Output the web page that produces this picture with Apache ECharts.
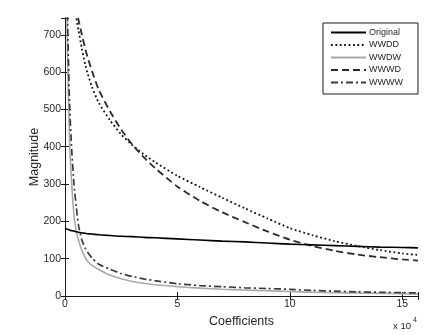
<!DOCTYPE html>
<html><head><meta charset="utf-8">
<script src="https://cdn.jsdelivr.net/npm/echarts@6/dist/echarts.min.js"></script>
<style>html,body{margin:0;padding:0;background:#fff}#c{width:438px;height:335px}</style>
</head><body><div id="c"></div>
<script>
// x positions in units of 10^4 coefficients
const coeffs   = [0, 0.1, 0.2, 0.3, 0.4, 0.5, 0.6, 0.75, 0.9, 1.0, 1.2, 1.5, 2.0, 2.5, 3.0, 3.5, 4, 5, 6, 7, 8, 9, 10, 11, 12, 13, 14, 15, 15.7];
const original = [181, 179, 177, 175, 174, 172, 171, 169, 168, 167, 166, 164, 162, 160, 159, 157, 156, 153, 150, 147, 145, 142, 139, 137, 135, 133, 131, 130, 129];
const wwdd     = [null, null, null, null, 790, 745, 712, 663, 620, 598, 560, 518, 471, 433, 404, 380, 359, 322, 292, 263, 235, 208, 182, 163, 147, 134, 123, 114, 110];
const wwdw     = [1500, 690, 420, 300, 215, 175, 150, 122, 103, 94, 82, 71, 56, 46, 39, 34, 30, 25, 21, 18, 16, 14, 12, 10, 9, 8, 7, 6, 5];
const wwwd     = [null, null, null, null, null, 775, 740, 700, 663, 641, 603, 553, 495, 446, 405, 372, 343, 293, 255, 224, 198, 173, 151, 134, 121, 111, 104, 98, 95];
const wwww     = [1600, 790, 520, 390, 300, 240, 190, 150, 128, 118, 102, 85, 72, 60, 52, 46, 41, 33, 28, 25, 22, 20, 18, 15, 13, 11, 10, 9, 8];
const xTicks = [0, 5, 10, 15];
const yTicks = [0, 100, 200, 300, 400, 500, 600, 700];
const seriesNames = ['Original', 'WWDD', 'WWDW', 'WWWD', 'WWWW'];

const FONT = 'Liberation Sans, Arial, sans-serif';
const TXT = '#262626';
const AX = '#1a1a1a';
const pairs = ys => coeffs.map((x, i) => [x, ys[i]]);

const chart = echarts.init(document.getElementById('c'), null, {renderer: 'canvas'});
const baseX = {
  type: 'value', min: 0, max: 15.7, interval: 5,
  axisLine: {show: true, lineStyle: {color: AX, width: 1}},
  axisTick: {show: true, inside: true, length: 4, lineStyle: {color: AX}},
  splitLine: {show: false}
};
const baseY = {
  type: 'value', min: 0, max: 745, interval: 100,
  axisLine: {show: true, lineStyle: {color: AX, width: 1}},
  axisTick: {show: true, inside: true, length: 4, lineStyle: {color: AX}},
  splitLine: {show: false}
};
const common = {type: 'line', showSymbol: false, symbol: 'none', smooth: 0.2, clip: true, xAxisIndex: 0, yAxisIndex: 0};
chart.setOption({
  animation: false,
  backgroundColor: '#fff',
  grid: {left: 65, right: 20, top: 18, bottom: 39},
  xAxis: [
    Object.assign({}, baseX, {
      position: 'bottom',
      name: 'Coefficients', nameLocation: 'middle', nameGap: 19, nameMoveOverlap: false,
      nameTextStyle: {fontFamily: FONT, fontSize: 12.5, color: TXT},
      axisLabel: {margin: 3, fontFamily: FONT, fontSize: 10.5, color: TXT,
        formatter: v => xTicks.includes(v) ? String(v) : ''}
    }),
    Object.assign({}, baseX, {position: 'top', axisLabel: {show: false}})
  ],
  yAxis: [
    Object.assign({}, baseY, {
      position: 'left',
      name: 'Magnitude', nameLocation: 'middle', nameGap: 24, nameRotate: 90, nameMoveOverlap: false,
      nameTextStyle: {fontFamily: FONT, fontSize: 12.5, color: TXT},
      axisLabel: {margin: 4, fontFamily: FONT, fontSize: 10.5, color: TXT,
        formatter: v => yTicks.includes(v) ? String(v) : ''}
    }),
    Object.assign({}, baseY, {position: 'right', axisLabel: {show: false}})
  ],
  legend: {
    orient: 'vertical', left: 323, top: 23,
    data: seriesNames,
    backgroundColor: '#fff', borderColor: AX, borderWidth: 1,
    padding: [5, 15, 7, 7],
    itemWidth: 35, itemHeight: 10, itemGap: 3.5,
    itemStyle: {opacity: 0, borderWidth: 0},
    textStyle: {fontFamily: FONT, fontSize: 9, color: TXT, padding: [0, 0, 0, -2]}
  },
  graphic: [
    {type: 'text', left: 393, top: 321, style: {text: 'x 10', font: '9.5px ' + FONT, fill: TXT}},
    {type: 'text', left: 413, top: 317, style: {text: '4', font: '7px ' + FONT, fill: TXT}}
  ],
  series: [
    Object.assign({}, common, {name: seriesNames[0], data: pairs(original), z: 5,
      lineStyle: {color: '#000', width: 1.6, type: 'solid'}, itemStyle: {color: '#000'}}),
    Object.assign({}, common, {name: seriesNames[1], data: pairs(wwdd),
      lineStyle: {color: '#111', width: 1.8, type: [1.8, 2.6]}, itemStyle: {color: '#111'}}),
    Object.assign({}, common, {name: seriesNames[2], data: pairs(wwdw),
      lineStyle: {color: '#a8a8a8', width: 1.6, type: 'solid'}, itemStyle: {color: '#a8a8a8'}}),
    Object.assign({}, common, {name: seriesNames[3], data: pairs(wwwd),
      lineStyle: {color: '#2b2b2b', width: 1.8, type: [7, 4]}, itemStyle: {color: '#2b2b2b'}}),
    Object.assign({}, common, {name: seriesNames[4], data: pairs(wwww),
      lineStyle: {color: '#3a3a3a', width: 1.7, type: [7, 3, 2, 3]}, itemStyle: {color: '#3a3a3a'}})
  ]
});
</script>
</body></html>
